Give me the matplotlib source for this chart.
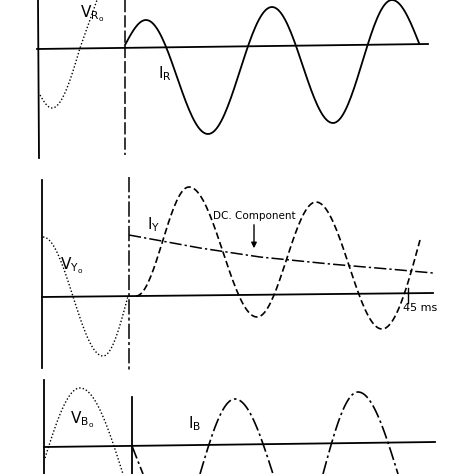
import numpy as np
import matplotlib
matplotlib.use("Agg")
import matplotlib.pyplot as plt

# Key points (pixel coords): x, y, kind (z=crossing/free end, e=extremum)
IR_x = [125, 146, 208, 272, 333, 392, 419]
IR_y = [45, 20, 134, 7, 123, 0, 43]
IR_k = ["z", "e", "e", "e", "e", "e", "z"]

VR_x = [40, 52, 80, 97]
VR_y = [95, 108, 48, 0]
VR_k = ["z", "e", "z", "z"]

VY_x = [43, 103, 128]
VY_y = [237, 356, 296]
VY_k = ["e", "e", "z"]

IY_x = [136, 189, 257, 316, 382, 420]
IY_y = [296, 187, 317, 202, 329, 240]
IY_k = ["e", "e", "e", "e", "e", "z"]

DC_x = [129, 200, 260, 330, 400, 433]
DC_y = [235, 248, 257, 264, 270, 273]

VB_x = [45, 80, 123]
VB_y = [458, 388, 474]
VB_k = ["z", "e", "z"]

IB_segs = [
    ([132, 143], [446, 474], ["z", "z"]),
    ([200, 235, 273], [474, 399, 474], ["z", "e", "z"]),
    ([323, 358, 398], [474, 392, 474], ["z", "e", "z"]),
]

def curve(xs, ys, ks, n=40):
    X, Y = [], []
    for i in range(len(xs) - 1):
        t = np.linspace(0, 1, n)
        x0, x1, y0, y1 = xs[i], xs[i+1], ys[i], ys[i+1]
        if ks[i] == "z" and ks[i+1] == "e":
            f = np.sin(t * np.pi / 2)
        elif ks[i] == "e" and ks[i+1] == "z":
            f = 1 - np.cos(t * np.pi / 2)
        elif ks[i] == "e" and ks[i+1] == "e":
            f = (1 - np.cos(np.pi * t)) / 2
        else:
            f = t
        X.extend(x0 + (x1 - x0) * t)
        Y.extend(y0 + (y1 - y0) * f)
    return X, Y

fig = plt.figure(figsize=(4.74, 4.74), dpi=100)
ax = fig.add_axes([0, 0, 1, 1])
ax.set_xlim(0, 474)
ax.set_ylim(474, 0)
ax.axis("off")
k = dict(color="black", lw=1.3)

ax.plot([37, 428], [49, 44], **k)
ax.plot([38, 39], [0, 158], **k)
ax.plot([125, 125], [0, 155], color="black", lw=1.1, ls=(0, (8, 2)))
ax.plot([42, 433], [297, 293], **k)
ax.plot([42, 42], [180, 368], **k)
ax.plot([129, 129], [177, 370], color="black", lw=1.1, ls=(0, (10, 2, 2, 2)))
ax.plot([44, 435], [447, 442], **k)
ax.plot([44, 44], [380, 474], **k)
ax.plot([132, 132], [397, 474], **k)
ax.plot([408, 408], [288, 303], color="black", lw=1)

x, y = curve(IR_x, IR_y, IR_k); ax.plot(x, y, **k)
x, y = curve(VR_x, VR_y, VR_k); ax.plot(x, y, color="black", lw=1, ls=(0, (1, 1.5)))
x, y = curve(VY_x, VY_y, VY_k); ax.plot(x, y, color="black", lw=1, ls=(0, (1, 1.5)))
x, y = curve(IY_x, IY_y, IY_k); ax.plot(x, y, color="black", lw=1.2, ls=(0, (4, 2)))
ax.plot(DC_x, DC_y, color="black", lw=1.1, ls=(0, (8, 2, 1.5, 2)))
x, y = curve(VB_x, VB_y, VB_k); ax.plot(x, y, color="black", lw=1, ls=(0, (1, 1.5)))
for sx, sy, sk in IB_segs:
    x, y = curve(sx, sy, sk); ax.plot(x, y, color="black", lw=1.2, ls=(0, (8, 2, 1.5, 2)))

ax.annotate("", xy=(254, 251), xytext=(254, 222),
            arrowprops=dict(arrowstyle="-|>", color="black", lw=1, mutation_scale=8))

fs = 11
ax.text(80, 14, r"$\mathrm{V_{R_o}}$", fontsize=fs, va="center")
ax.text(158, 74, r"$\mathrm{I_R}$", fontsize=fs, va="center")
ax.text(147, 225, r"$\mathrm{I_Y}$", fontsize=fs, va="center")
ax.text(60, 266, r"$\mathrm{V_{Y_o}}$", fontsize=fs, va="center")
ax.text(213, 216, "DC. Component", fontsize=7.5, va="center")
ax.text(403, 308, "45 ms", fontsize=8, va="center")
ax.text(70, 420, r"$\mathrm{V_{B_o}}$", fontsize=fs, va="center")
ax.text(188, 424, r"$\mathrm{I_B}$", fontsize=fs, va="center")

fig.savefig("out.png", dpi=100, facecolor="white")
